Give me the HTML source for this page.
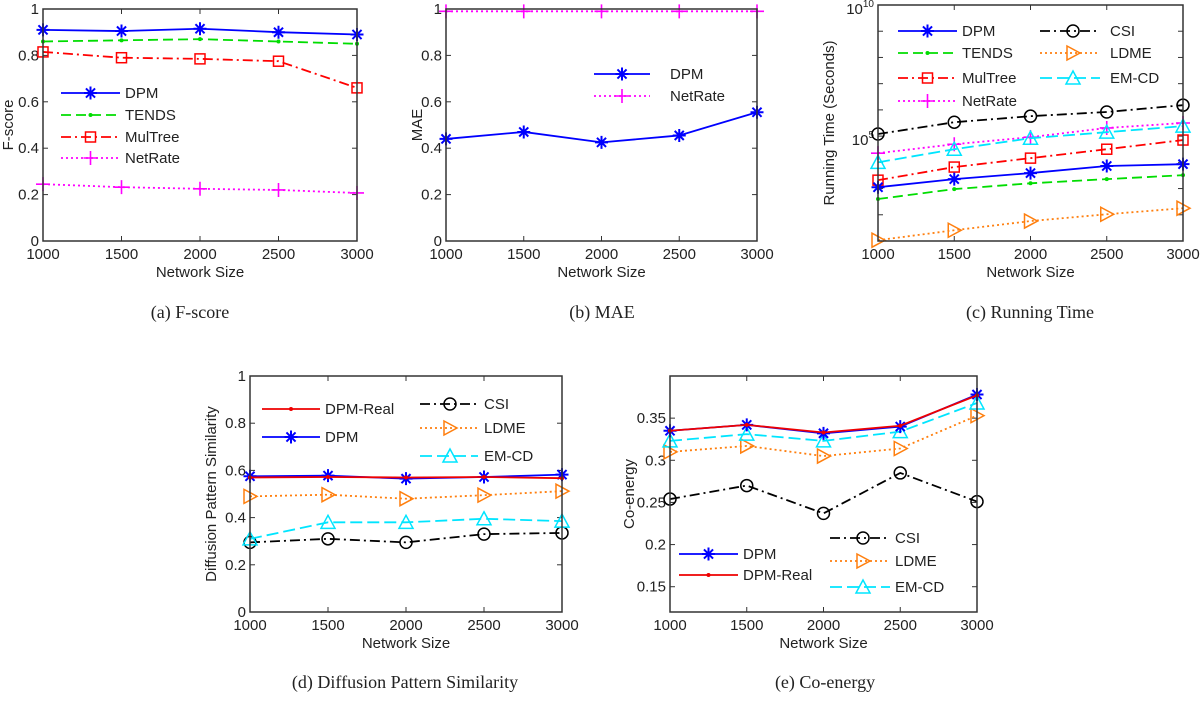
<!DOCTYPE html>
<html><head><meta charset="utf-8"><style>
body{margin:0;background:#fff;width:1200px;height:696px;overflow:hidden}
svg text{font-family:"Liberation Sans",sans-serif;font-size:15px;fill:#222}
svg text.cap{font-family:"Liberation Serif",serif;font-size:18px}
</style></head><body>
<svg id="fig" width="1200" height="696" xmlns="http://www.w3.org/2000/svg"></svg>
<script>
const xCategories=[1000,1500,2000,2500,3000];
// (a) F-score
const fsDPM=[0.91,0.905,0.915,0.9,0.89];
const fsTENDS=[0.86,0.865,0.87,0.86,0.85];
const fsMulTree=[0.815,0.79,0.785,0.775,0.66];
const fsNetRate=[0.245,0.232,0.225,0.22,0.207];
// (b) MAE
const maeDPM=[0.44,0.47,0.425,0.455,0.555];
const maeNetRate=[0.99,0.99,0.99,0.99,0.99];
// (c) Running time (log10 seconds)
const rtDPM=[3.05,3.36,3.59,3.86,3.93];
const rtTENDS=[2.6,2.98,3.2,3.36,3.51];
const rtMulTree=[3.32,3.82,4.16,4.5,4.85];
const rtNetRate=[4.35,4.69,4.96,5.31,5.5];
const rtCSI=[5.08,5.53,5.76,5.92,6.18];
const rtLDME=[1.03,1.41,1.76,2.02,2.25];
const rtEMCD=[4.0,4.5,4.92,5.15,5.38];
// (d) Diffusion pattern similarity
const dsDPMReal=[0.57,0.572,0.57,0.572,0.567];
const dsDPM=[0.575,0.578,0.565,0.572,0.582];
const dsCSI=[0.295,0.31,0.295,0.33,0.335];
const dsLDME=[0.49,0.497,0.48,0.495,0.512];
const dsEMCD=[0.31,0.38,0.38,0.395,0.385];
// (e) Co-energy
const ceDPM=[0.335,0.342,0.332,0.34,0.378];
const ceDPMReal=[0.335,0.342,0.333,0.341,0.377];
const ceCSI=[0.254,0.27,0.237,0.285,0.251];
const ceLDME=[0.31,0.317,0.305,0.314,0.353];
const ceEMCD=[0.323,0.331,0.323,0.334,0.368];
const ticksA=[0,0.2,0.4,0.6,0.8,1];
const ticksLogC=[1,2,3,4,5,6,7,8,9,10];
const ticksE=[0.15,0.2,0.25,0.3,0.35];

const NS="http://www.w3.org/2000/svg";
const svg=document.getElementById('fig');
function mk(tag,at,parent){const e=document.createElementNS(NS,tag);for(const k in at)e.setAttribute(k,at[k]);(parent||svg).appendChild(e);return e;}
const ST={
 DPM:{c:'#0000ff',d:'',m:'star'},
 TENDS:{c:'#00dd00',d:'10,5',m:'dot'},
 MulTree:{c:'#ff0000',d:'10,4,2,4',m:'square'},
 NetRate:{c:'#ff00ff',d:'2,3',m:'plus'},
 CSI:{c:'#000000',d:'10,4,2,4',m:'circle'},
 LDME:{c:'#ff7f0e',d:'2,3',m:'tri-r'},
 'EM-CD':{c:'#00e5ff',d:'12,5',m:'tri-u'},
 'DPM-Real':{c:'#ee0000',d:'',m:'dot'}
};
function marker(g,type,x,y,c){
 const s=6.5;
 if(type==='star'){const p=`M${x-s},${y}H${x+s}M${x},${y-s}V${y+s}M${x-s*0.7},${y-s*0.7}L${x+s*0.7},${y+s*0.7}M${x-s*0.7},${y+s*0.7}L${x+s*0.7},${y-s*0.7}`;mk('path',{d:p,stroke:c,'stroke-width':2,fill:'none'},g);}
 else if(type==='dot')mk('circle',{cx:x,cy:y,r:2,fill:c},g);
 else if(type==='square')mk('rect',{x:x-5,y:y-5,width:10,height:10,stroke:c,'stroke-width':1.5,fill:'none'},g);
 else if(type==='plus')mk('path',{d:`M${x-7},${y}H${x+7}M${x},${y-7}V${y+7}`,stroke:c,'stroke-width':1.6,fill:'none'},g);
 else if(type==='circle')mk('circle',{cx:x,cy:y,r:6,stroke:c,'stroke-width':1.5,fill:'none'},g);
 else if(type==='tri-r')mk('path',{d:`M${x-6},${y-7}L${x+7},${y}L${x-6},${y+7}Z`,stroke:c,'stroke-width':1.5,fill:'none'},g);
 else if(type==='tri-u')mk('path',{d:`M${x},${y-7}L${x+7},${y+6}L${x-7},${y+6}Z`,stroke:c,'stroke-width':1.5,fill:'none'},g);
}
function panel(o){
 const g=mk('g',{});
 
 
 const X=v=>o.L+(v-1000)/2000*(o.R-o.L);
 const Y=v=>o.B-(v-o.ymin)/(o.ymax-o.ymin)*(o.B-o.T);
 o.yt.forEach(t=>{const y=Y(t.v);
  mk('line',{x1:o.L,x2:o.L+5,y1:y,y2:y,stroke:'#333'},g);mk('line',{x1:o.R,x2:o.R-5,y1:y,y2:y,stroke:'#333'},g);
  if(t.l!==undefined){const tx=mk('text',{x:o.L-4,y:y+(t.dy||5),'text-anchor':'end'},g);tx.innerHTML=t.l;
   }
 });
 xCategories.forEach(v=>{const x=X(v);
  mk('line',{x1:x,x2:x,y1:o.B,y2:o.B-5,stroke:'#333'},g);mk('line',{x1:x,x2:x,y1:o.T,y2:o.T+5,stroke:'#333'},g);
  const tx=mk('text',{x:x,y:o.B+18,'text-anchor':'middle'},g);tx.textContent=v;
  
 });
 o.series.forEach(s=>{const st=ST[s.k];const sg=mk('g',{},g);
  
  
  const pts=s.v.map((v,i)=>X(xCategories[i])+','+Y(v)).join(' ');
  mk('polyline',{points:pts,fill:'none',stroke:st.c,'stroke-width':1.8,'stroke-dasharray':st.d},sg);
  s.v.forEach((v,i)=>marker(sg,st.m,X(xCategories[i]),Y(v),st.c));
 });
 mk('rect',{x:o.L,y:o.T,width:o.R-o.L,height:o.B-o.T,fill:'none',stroke:'#333','stroke-width':1.5},g);
 o.leg.forEach(l=>{const st=ST[l.k];const lg=mk('g',{},g);
  
  
  mk('line',{x1:l.x1,x2:l.x2,y1:l.y,y2:l.y,stroke:st.c,'stroke-width':1.8,'stroke-dasharray':st.d},lg);
  marker(lg,st.m,l.mx||(l.x1+l.x2)/2,l.y,st.c);
  const t=mk('text',{x:l.tx,y:l.y+5},lg);t.textContent=l.k;
 });
 const xl=mk('text',{x:(o.L+o.R)/2,y:o.B+36,'text-anchor':'middle'},g);xl.textContent='Network Size';
 
 const yl=mk('text',{x:0,y:0,'text-anchor':'middle',transform:`translate(${o.ylx},${(o.T+o.B)/2}) rotate(-90)`},g);yl.textContent=o.ylab;
 
 const cp=mk('text',{x:o.cx,y:o.cy,'text-anchor':'middle',class:'cap'},g);cp.textContent=o.cap;
 
}
const lin=a=>a.map(v=>({v:v,l:String(v)}));
panel({name:'panel-a-fscore',L:43,R:357,T:9,B:241,ymin:0,ymax:1,yt:lin(ticksA),ylab:'F-score',ylx:13,cap:'(a)  F-score',cx:190,cy:318,
 series:[{k:'DPM',v:fsDPM},{k:'TENDS',v:fsTENDS},{k:'MulTree',v:fsMulTree},{k:'NetRate',v:fsNetRate}],
 leg:[{k:'DPM',x1:61,x2:120,y:93,tx:125},{k:'TENDS',x1:61,x2:120,y:115,tx:125},{k:'MulTree',x1:61,x2:120,y:137,tx:125},{k:'NetRate',x1:61,x2:120,y:158,tx:125}]});
panel({name:'panel-b-mae',L:446,R:757,T:9,B:241,ymin:0,ymax:1,yt:lin(ticksA),ylab:'MAE',ylx:422,cap:'(b)  MAE',cx:602,cy:318,
 series:[{k:'NetRate',v:maeNetRate},{k:'DPM',v:maeDPM}],
 leg:[{k:'DPM',x1:594,x2:650,y:74,tx:670},{k:'NetRate',x1:594,x2:650,y:96,tx:670}]});
panel({name:'panel-c-running-time',L:878,R:1183,T:5,B:241,ymin:1,ymax:10,yt:ticksLogC.map(v=>({v:v,dy:9,l:v===10?'10<tspan dy="-7" font-size="10">10</tspan>':v===5?'10<tspan dy="-7" font-size="10">5</tspan>':undefined})),ylab:'Running Time (Seconds)',ylx:834,cap:'(c)  Running Time',cx:1030,cy:318,
 series:[{k:'CSI',v:rtCSI},{k:'NetRate',v:rtNetRate},{k:'EM-CD',v:rtEMCD},{k:'MulTree',v:rtMulTree},{k:'DPM',v:rtDPM},{k:'TENDS',v:rtTENDS},{k:'LDME',v:rtLDME}],
 leg:[{k:'DPM',x1:898,x2:957,y:31,tx:962},{k:'TENDS',x1:898,x2:957,y:53,tx:962},{k:'MulTree',x1:898,x2:957,y:78,tx:962},{k:'NetRate',x1:898,x2:957,y:101,tx:962},
  {k:'CSI',x1:1040,x2:1100,mx:1073,y:31,tx:1110},{k:'LDME',x1:1040,x2:1100,mx:1073,y:53,tx:1110},{k:'EM-CD',x1:1040,x2:1100,mx:1073,y:78,tx:1110}]});
panel({name:'panel-d-diffusion-similarity',L:250,R:562,T:376,B:612,ymin:0,ymax:1,yt:lin(ticksA),ylab:'Diffusion Pattern Similarity',ylx:216,cap:'(d)  Diffusion Pattern Similarity',cx:405,cy:688,
 series:[{k:'CSI',v:dsCSI},{k:'EM-CD',v:dsEMCD},{k:'LDME',v:dsLDME},{k:'DPM',v:dsDPM},{k:'DPM-Real',v:dsDPMReal}],
 leg:[{k:'DPM-Real',x1:262,x2:320,y:409,tx:325},{k:'DPM',x1:262,x2:320,y:437,tx:325},
  {k:'CSI',x1:420,x2:478,mx:450,y:404,tx:484},{k:'LDME',x1:420,x2:478,mx:450,y:428,tx:484},{k:'EM-CD',x1:420,x2:478,mx:450,y:456,tx:484}]});
panel({name:'panel-e-coenergy',L:670,R:977,T:376,B:612,ymin:0.12,ymax:0.4,yt:ticksE.map(v=>({v:v,l:String(v)})),ylab:'Co-energy',ylx:634,cap:'(e)  Co-energy',cx:825,cy:688,
 series:[{k:'CSI',v:ceCSI},{k:'LDME',v:ceLDME},{k:'EM-CD',v:ceEMCD},{k:'DPM',v:ceDPM},{k:'DPM-Real',v:ceDPMReal}],
 leg:[{k:'DPM',x1:679,x2:738,y:554,tx:743},{k:'DPM-Real',x1:679,x2:738,y:575,tx:743},
  {k:'CSI',x1:830,x2:890,mx:863,y:538,tx:895},{k:'LDME',x1:830,x2:890,mx:863,y:561,tx:895},{k:'EM-CD',x1:830,x2:890,mx:863,y:587,tx:895}]});
</script>
</body></html>
